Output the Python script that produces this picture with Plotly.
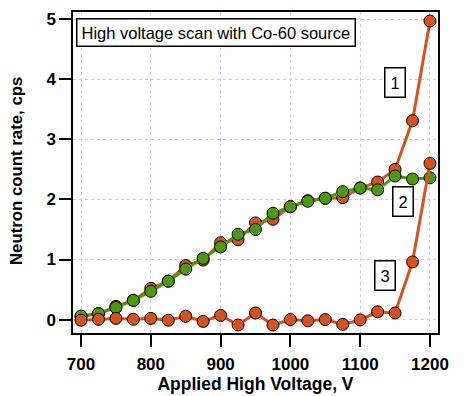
import plotly.graph_objects as go

voltage = [700, 725, 750, 775, 800, 825, 850, 875, 900, 925, 950, 975, 1000,
           1025, 1050, 1075, 1100, 1125, 1150, 1175, 1200]
series1 = [0.05, 0.10, 0.22, 0.32, 0.52, 0.64, 0.90, 0.99, 1.28, 1.33, 1.61, 1.67,
           1.88, 1.98, 2.02, 2.03, 2.19, 2.29, 2.50, 3.31, 4.97]
series2 = [0.06, 0.10, 0.20, 0.32, 0.47, 0.64, 0.84, 1.02, 1.21, 1.42, 1.50, 1.77,
           1.88, 1.97, 2.02, 2.13, 2.19, 2.16, 2.39, 2.34, 2.36]
series3 = [-0.01, 0.005, 0.02, 0.005, 0.02, -0.01, 0.055, -0.03, 0.07, -0.09, 0.11,
           -0.09, 0.0, -0.02, 0.0, -0.08, -0.005, 0.13, 0.11, 0.96, 2.60]

ORANGE = "#D6511C"
GREEN = "#4C9A08"
FONT = "Liberation Sans, Arial"

fig = go.Figure()

def add(y, color):
    fig.add_trace(go.Scatter(
        x=voltage, y=y, mode="lines+markers",
        line=dict(color=color, width=3),
        marker=dict(color=color, size=12, line=dict(color="black", width=1)),
        showlegend=False, cliponaxis=False))

add(series1, ORANGE)
add(series2, GREEN)
add(series3, ORANGE)

ann_font = dict(family=FONT, size=16.5, color="black")
fig.add_annotation(x=0.008, y=0.98, xref="paper", yref="paper", xanchor="left", yanchor="top",
                   text="High voltage scan with Co-60 source", showarrow=False,
                   font=ann_font, bordercolor="black", borderwidth=1.5, borderpad=4, bgcolor="white")
for label, xv, yv in [("1", 1150, 3.94), ("2", 1161, 1.97), ("3", 1136, 0.74)]:
    fig.add_annotation(x=xv, y=yv, text=label, showarrow=False, font=ann_font,
                       bordercolor="black", borderwidth=1.5, borderpad=5, bgcolor="white")

# y-axis title as rotated annotation for exact placement
fig.add_annotation(x=-0.153, y=0.505, xref="paper", yref="paper", xanchor="center", yanchor="middle",
                   text="Neutron count rate, cps", textangle=-90, showarrow=False,
                   font=dict(family=FONT, size=16.8, color="black", weight="bold"))

axis_common = dict(
    showline=True, linecolor="black", linewidth=1.5, mirror=True,
    ticks="outside", ticklen=12, tickwidth=1.5, tickcolor="black",
    showgrid=True, gridcolor="#C8C8F0", griddash="dot", gridwidth=1,
    zeroline=False, automargin=False,
    tickfont=dict(family=FONT, size=17, color="black", weight="bold"),
)

fig.update_xaxes(range=[688.5, 1211.5], tickvals=[700, 800, 900, 1000, 1100, 1200],
                 ticklabelstandoff=3,
                 title=dict(text="Applied High Voltage, V", standoff=5,
                            font=dict(family=FONT, size=17.5, color="black", weight="bold")),
                 **axis_common)
fig.update_yaxes(range=[-0.223, 5.12], tickvals=[0, 1, 2, 3, 4, 5],
                 **axis_common)

# page has an 8px body margin; size the figure to fit the 474x396 window
fig.update_layout(
    width=466, height=388,
    margin=dict(l=65, r=36, t=4, b=63),
    plot_bgcolor="white", paper_bgcolor="white",
)

fig.write_html("out.html")
